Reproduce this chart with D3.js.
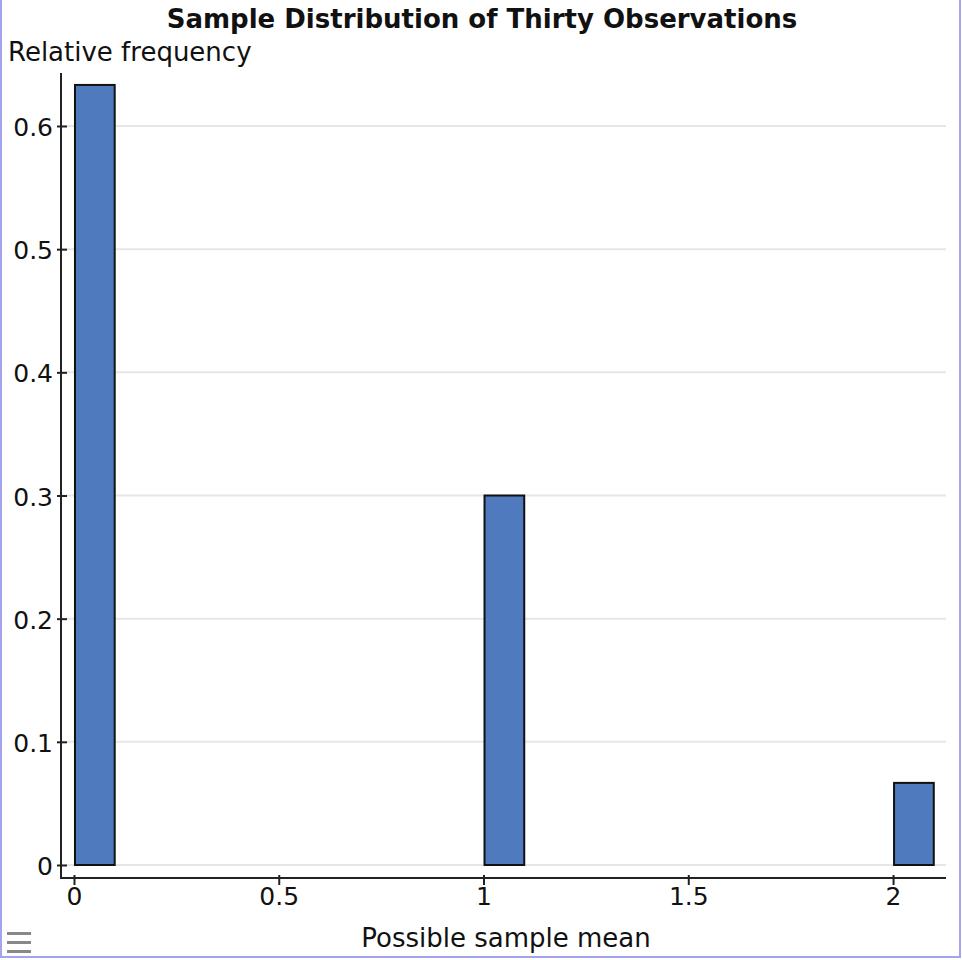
<html>
  <head>
    <title>Sample Distribution of Thirty Observations</title>
    <style type="text/css">
body { margin: 0; background: white; }
#chart { width: 962px; height: 960px; }
.grid line { stroke: #e6e6e6; stroke-width: 2; }
.bar { fill: #4f7abd; stroke: #111; stroke-width: 2; }
text { font-family: "DejaVu Sans", Verdana, sans-serif; fill: #111; }
    </style>
    <script type="text/javascript" src="https://cdn.jsdelivr.net/npm/d3@7"></script>
  </head>
  <body>
    <div id="chart"></div>
    <script type="text/javascript">
      // data: sample means and their relative frequencies (19, 9, 2 out of 30)
      var means = [0, 1, 2];
      var freqs = [19 / 30, 9 / 30, 2 / 30];
      var binWidth = 0.097;
      var yTicks = [0, 0.1, 0.2, 0.3, 0.4, 0.5, 0.6];
      var xTicks = [0, 0.5, 1, 1.5, 2];

      var w = 962, h = 960;
      var svg = d3.select("#chart").append("svg")
           .attr("width", w)
           .attr("height", h);

      // frame
      svg.append("rect")
           .attr("x", 1).attr("y", -2)
           .attr("width", w - 3).attr("height", h - 1)
           .attr("fill", "none")
           .attr("stroke", "#a3a3ee")
           .attr("stroke-width", 2);

      var x = d3.scaleLinear().domain([-0.0317, 2.1]).range([61, 934]);
      var y = d3.scaleLinear().domain([0, 0.6]).range([865, 126]);

      // gridlines
      svg.append("g").attr("class", "grid")
           .selectAll("line")
           .data(yTicks)
           .enter().append("line")
           .attr("x1", 62).attr("x2", 946)
           .attr("y1", function(d) { return y(d); })
           .attr("y2", function(d) { return y(d); });

      // bars
      svg.selectAll(".bar")
           .data(means)
           .enter().append("rect")
           .attr("class", "bar")
           .attr("x", function(d) { return x(d) + 1; })
           .attr("width", function(d) { return x(d + binWidth) - x(d); })
           .attr("y", function(d, i) { return y(freqs[i]); })
           .attr("height", function(d, i) { return y(0) - y(freqs[i]); });

      // axes
      var yAxis = svg.append("g")
           .attr("transform", "translate(61,0)")
           .call(d3.axisLeft(y).tickValues(yTicks).tickSize(0).tickPadding(8)
                 .tickFormat(function(d) { return d === 0 ? "0" : d3.format(".1f")(d); }));
      yAxis.select(".domain").remove();
      yAxis.append("line").attr("x1", 0).attr("x2", 0).attr("y1", 73).attr("y2", 879)
           .attr("stroke", "#222").attr("stroke-width", 2);
      yAxis.selectAll(".tick").append("line")
           .attr("x1", -4).attr("x2", 6).attr("stroke", "#222").attr("stroke-width", 2);
      yAxis.selectAll("text").attr("font-size", 25).attr("fill", "#111")
           .attr("dy", "0.38em")
           .attr("font-family", "DejaVu Sans, sans-serif");

      var xAxis = svg.append("g")
           .attr("transform", "translate(0,878)")
           .call(d3.axisBottom(x).tickValues(xTicks).tickSize(0).tickPadding(9)
                 .tickFormat(function(d) { return d3.format("")(d); }));
      xAxis.select(".domain").remove();
      xAxis.append("line").attr("x1", 60).attr("x2", 946).attr("y1", 0).attr("y2", 0)
           .attr("stroke", "#222").attr("stroke-width", 2);
      xAxis.selectAll(".tick").append("line")
           .attr("y1", -3).attr("y2", 7).attr("stroke", "#222").attr("stroke-width", 2);
      xAxis.selectAll("text").attr("font-size", 25).attr("fill", "#111")
           .attr("font-family", "DejaVu Sans, sans-serif");

      // titles
      svg.append("text")
           .attr("x", 482).attr("y", 28)
           .attr("text-anchor", "middle")
           .attr("font-size", 26).attr("font-weight", "bold")
           .text("Sample Distribution of Thirty Observations");
      svg.append("text")
           .attr("x", 8).attr("y", 61)
           .attr("font-size", 26)
           .text("Relative frequency");
      svg.append("text")
           .attr("x", 506).attr("y", 947)
           .attr("text-anchor", "middle")
           .attr("font-size", 26)
           .text("Possible sample mean");

      // menu icon
      svg.append("g").selectAll("rect")
           .data([0, 1, 2])
           .enter().append("rect")
           .attr("x", 7).attr("y", function(d) { return 932 + d * 9; })
           .attr("width", 24).attr("height", 3)
           .attr("fill", "#888");
    </script>
  </body>
</html>
